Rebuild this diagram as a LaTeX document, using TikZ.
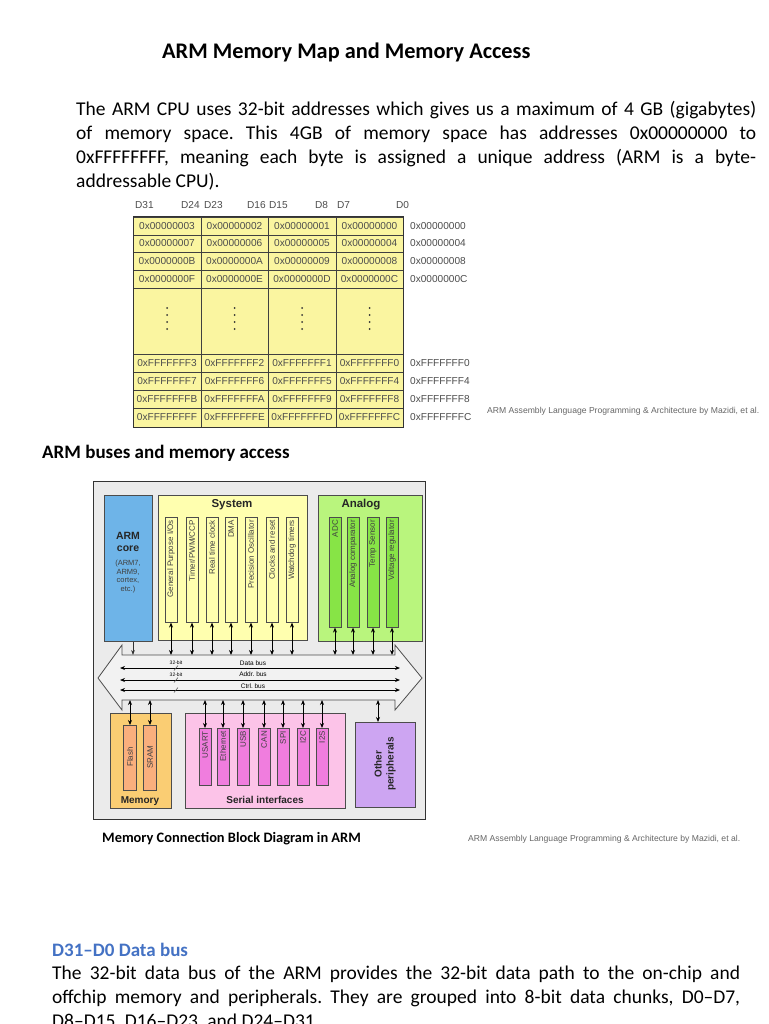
\documentclass[tikz,border=0pt]{standalone}
\usepackage{fontspec}
\setmainfont{Carlito}
\newfontfamily\arial{Liberation Sans}
\usetikzlibrary{arrows.meta}
\frenchspacing
\definecolor{cblue}{RGB}{110,180,232}
\definecolor{cyel}{RGB}{255,255,175}
\definecolor{cgreen}{RGB}{185,245,125}
\definecolor{cgreenin}{RGB}{135,228,70}
\definecolor{corange}{RGB}{250,205,115}
\definecolor{corangein}{RGB}{250,175,125}
\definecolor{cpink}{RGB}{252,195,232}
\definecolor{cpinkin}{RGB}{240,125,222}
\definecolor{cpurple}{RGB}{205,165,242}
\definecolor{ctab}{RGB}{250,245,160}
\definecolor{headblue}{RGB}{68,114,196}
\tikzset{
 body/.style={anchor=base west,inner sep=0,font=\fontsize{19.5}{22}\selectfont},
 cell/.style={draw=black!75,fill=ctab,line width=0.6pt},
 celltxt/.style={inner sep=0,font=\arial\fontsize{10.1}{11}\selectfont,text=black!70},
 blk/.style={draw=black!70,line width=0.8pt},
 inbox/.style={draw=black!70,line width=0.6pt,minimum width=12pt,inner sep=0},
 vtxt/.style={rotate=90,inner sep=0,font=\arial\fontsize{8}{8}\selectfont,text=black!75},
 bus/.style={line width=1pt,{Stealth[length=5pt,width=4pt]}-{Stealth[length=5pt,width=4pt]}},
 credit/.style={anchor=base west,inner sep=0,font=\arial\fontsize{8.6}{9}\selectfont,text=black!60},
}
\begin{document}
\begin{tikzpicture}[x=1pt,y=-1pt]
\useasboundingbox[fill=white] (0,0) rectangle (768,1024);
\node[anchor=base west,inner sep=0,font=\bfseries\fontsize{22.3}{26}\selectfont] (title) at (162,59) {ARM Memory Map and Memory Access};
\node[body] (p1) at (76,116) {\hbox to 680pt{The ARM CPU uses 32-bit addresses which gives us a maximum of 4 GB (gigabytes)}};
\node[body] (p2) at (76,140) {\hbox to 680pt{of memory space. This 4GB of memory space has addresses 0x00000000 to}};
\node[body] (p3) at (76,164) {\hbox to 680pt{0xFFFFFFFF, meaning each byte is assigned a unique address (ARM is a byte-}};
\node[body] (p4) at (76,188) {addressable CPU).};
% table headers
\foreach \t/\x in {D31/135,D24/181,D23/204,D16/247,D15/269,D8/315,D7/337,D0/396}
  \node[celltxt,anchor=base west] (h\t) at (\x,209) {\t};
% table cells
\foreach \r/\ya/\yb/\a/\b/\c/\d/\e in {
 0/217/235/0x00000003/0x00000002/0x00000001/0x00000000/0x00000000,
 1/235/252/0x00000007/0x00000006/0x00000005/0x00000004/0x00000004,
 2/252/270/0x0000000B/0x0000000A/0x00000009/0x00000008/0x00000008,
 3/270/288/0x0000000F/0x0000000E/0x0000000D/0x0000000C/0x0000000C,
 5/354/372/0xFFFFFFF3/0xFFFFFFF2/0xFFFFFFF1/0xFFFFFFF0/0xFFFFFFF0,
 6/372/390/0xFFFFFFF7/0xFFFFFFF6/0xFFFFFFF5/0xFFFFFFF4/0xFFFFFFF4,
 7/390/408/0xFFFFFFFB/0xFFFFFFFA/0xFFFFFFF9/0xFFFFFFF8/0xFFFFFFF8,
 8/408/427/0xFFFFFFFF/0xFFFFFFFE/0xFFFFFFFD/0xFFFFFFFC/0xFFFFFFFC}{
 \draw[cell] (133,\ya) rectangle (201,\yb);
 \draw[cell] (201,\ya) rectangle (268,\yb);
 \draw[cell] (268,\ya) rectangle (336,\yb);
 \draw[cell] (336,\ya) rectangle (403,\yb);
 \node[celltxt] (c\r a) at (167,{(\ya+\yb)/2}) {\a};
 \node[celltxt] (c\r b) at (234.5,{(\ya+\yb)/2}) {\b};
 \node[celltxt] (c\r c) at (302,{(\ya+\yb)/2}) {\c};
 \node[celltxt] (c\r d) at (369.5,{(\ya+\yb)/2}) {\d};
 \node[celltxt,anchor=west] (c\r e) at (410,{(\ya+\yb)/2}) {\e};
}
\foreach \x/\xa/\xb in {1/133/201,2/201/268,3/268/336,4/336/403}{
 \draw[cell] (\xa,288) rectangle (\xb,354);
 \foreach \yy in {308,315,322,329} \fill[black!80] ({(\xa+\xb)/2},\yy) circle (1pt);
}
\draw[black!80,line width=1pt] (133,217) rectangle (403,427);
\node[credit] (cr1) at (487,413) {ARM Assembly Language Programming \& Architecture by Mazidi, et al.};
\node[anchor=base west,inner sep=0,font=\bfseries\fontsize{19}{22}\selectfont] (sub1) at (42,458) {ARM buses and memory access};
% diagram
\draw[draw=black!80,fill=black!8,line width=1pt] (93,481) rectangle (425,819);
\node[blk,fill=cblue,minimum width=48pt,minimum height=146pt,anchor=north west] (core) at (104,495) {};
\node[anchor=north,align=center,inner sep=0,font=\arial\bfseries\fontsize{10.5}{12.5}\selectfont,text=black!85] (coret) at (128,532) {ARM\\core};
\node[anchor=north,align=center,inner sep=0,font=\arial\fontsize{7.5}{8.5}\selectfont,text=black!75] (coret2) at (128,560) {(ARM7,\\ARM9,\\cortex,\\etc.)};
\node[blk,fill=cyel,minimum width=149pt,minimum height=145pt,anchor=north west] (sys) at (158,495) {};
\node[inner sep=0,font=\arial\bfseries\fontsize{11.5}{12}\selectfont,text=black!85] (syst) at (232,505) {System};
\node[blk,fill=cgreen,minimum width=104pt,minimum height=146pt,anchor=north west] (ana) at (318,495) {};
\node[inner sep=0,font=\arial\bfseries\fontsize{11.5}{12}\selectfont,text=black!85] (anat) at (361,505) {Analog};
\foreach \i/\x/\t in {1/171/{General Purpose I/Os},2/192/{Timer/PWM/CCP},3/212/{Real time clock},4/231/DMA,5/251/{Precision Oscillator},6/272/{Clocks and reset},7/292/{Watchdog timers}}{
 \node[inbox,fill=cyel,minimum height=105pt,anchor=north] (s\i) at (\x,517) {};
 \node[vtxt,anchor=east] (st\i) at (\x,520) {\t};
 \draw[bus,line width=0.8pt] (s\i.south) -- (\x,655);
}
\foreach \i/\x/\t in {1/335/ADC,2/353/{Analog comparator},3/373/{Temp Sensor},4/392/{Voltage regulator}}{
 \node[inbox,fill=cgreenin,minimum height=110pt,anchor=north] (a\i) at (\x,517) {};
 \node[vtxt,anchor=east] (at\i) at (\x,520) {\t};
 \draw[bus,line width=0.8pt] (a\i.south) -- (\x,655);
}
% bus arrow
\draw[fill=black!5,draw=black!70,line width=0.8pt] (98,678) -- (122,645) -- (122,655) -- (395,655) -- (395,645) -- (422,678) -- (395,710) -- (395,700) -- (122,700) -- (122,710) -- cycle;
\draw[black!80,line width=1pt,-{Stealth[length=5pt]}] (core.south -| 133,0) -- (133,655);
\coordinate (bl1) at (120,668); \coordinate (br1) at (400,668);
\coordinate (bl2) at (120,680); \coordinate (br2) at (400,680);
\coordinate (bl3) at (120,690); \coordinate (br3) at (400,690);
\draw[bus] (bl1) -- (br1);
\draw[bus] (bl2) -- (br2);
\draw[bus] (bl3) -- (br3);
\foreach \y in {668,680,690} \draw[black!70,line width=0.5pt] (174,\y+2.5) -- (178,\y-2.5);
\node[inner sep=0,font=\arial\fontsize{6.5}{7}\selectfont] (db) at (253,663) {Data bus};
\node[inner sep=0,font=\arial\fontsize{6.5}{7}\selectfont] (ab) at (253,674.5) {Addr. bus};
\node[inner sep=0,font=\arial\fontsize{6.5}{7}\selectfont] (cb) at (253,686) {Ctrl. bus};
\node[inner sep=0,font=\arial\fontsize{5}{6}\selectfont] (b32a) at (176,663) {32-bit};
\node[inner sep=0,font=\arial\fontsize{5}{6}\selectfont] (b32b) at (176,675) {32-bit};
% bottom
\node[blk,fill=corange,minimum width=61pt,minimum height=95pt,anchor=north west] (mem) at (110,713) {};
\node[inner sep=0,font=\arial\bfseries\fontsize{10}{11}\selectfont,text=black!85] (memt) at (140,801) {Memory};
\foreach \i/\x/\t in {1/130/Flash,2/150/SRAM}{
 \node[inbox,fill=corangein,minimum width=13pt,minimum height=65pt,anchor=north] (m\i) at (\x,725) {};
 \node[vtxt] (mt\i) at (\x,757) {\t};
 \draw[bus,line width=0.8pt] (\x,700) -- (m\i.north);
}
\node[blk,fill=cpink,minimum width=160pt,minimum height=95pt,anchor=north west] (ser) at (185,713) {};
\node[inner sep=0,font=\arial\bfseries\fontsize{10}{11}\selectfont,text=black!85] (sert) at (265,800) {Serial interfaces};
\foreach \i/\x/\t in {1/205/USART,2/223/Ethernet,3/243/USB,4/264/CAN,5/283/SPI,6/303/I2C,7/322/I2S}{
 \node[inbox,fill=cpinkin,minimum height=57pt,anchor=north] (r\i) at (\x,728) {};
 \node[vtxt,anchor=east] (rt\i) at (\x,731) {\t};
 \draw[bus,line width=0.8pt] (\x,700) -- (r\i.north);
}
\node[blk,fill=cpurple,minimum width=60pt,minimum height=85pt,anchor=north west] (oth) at (355,722) {};
\node[rotate=90,align=center,inner sep=0,font=\arial\bfseries\fontsize{10}{12}\selectfont,text=black!85] (otht) at (385,764) {Other\\peripherals};
\draw[bus,line width=0.8pt] (378,700) -- (oth.north -| 378,0);
\node[anchor=base west,inner sep=0,font=\bfseries\fontsize{14.4}{17}\selectfont] (cap) at (102,842) {Memory Connection Block Diagram in ARM};
\node[credit] (cr2) at (468,841) {ARM Assembly Language Programming \& Architecture by Mazidi, et al.};
\node[anchor=base west,inner sep=0,font=\bfseries\fontsize{19}{22}\selectfont,text=headblue] (sub2) at (52,956) {D31–D0 Data bus};
\node[body] (q1) at (52,979) {\hbox to 688pt{The 32-bit data bus of the ARM provides the 32-bit data path to the on-chip and}};
\node[body] (q2) at (52,1003) {\hbox to 688pt{offchip memory and peripherals. They are grouped into 8-bit data chunks, D0–D7,}};
\node[body] (q3) at (52,1027) {D8–D15, D16–D23, and D24–D31.};
\end{tikzpicture}
\end{document}
